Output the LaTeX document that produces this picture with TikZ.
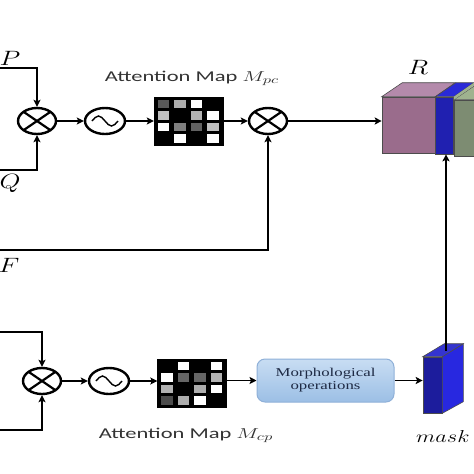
\documentclass[tikz,border=0pt]{standalone}
\usepackage{graphicx}
\usepackage{fontspec}
\newfontfamily\carl{Carlito}
\newfontfamily\lser{Liberation Serif}
\usetikzlibrary{shapes.geometric,arrows.meta}
\definecolor{pinkF}{HTML}{9A6C8C}
\definecolor{pinkT}{HTML}{B48AAB}
\definecolor{blueF}{HTML}{2020B0}
\definecolor{blueT}{HTML}{2A2AD8}
\definecolor{greenF}{HTML}{7D8C72}
\definecolor{greenT}{HTML}{9FB28F}
\definecolor{maskF}{HTML}{1C1C9C}
\definecolor{maskS}{HTML}{2828E0}
\definecolor{maskT}{HTML}{3434D0}
\definecolor{morphTop}{HTML}{C8DDF3}
\definecolor{morphBot}{HTML}{9CBFE5}
\definecolor{morphLine}{HTML}{8FB0D8}
\definecolor{morphText}{HTML}{1E2A44}
\newcommand{\wide}[2]{\scalebox{#1}[1]{#2}}
\begin{document}
\begin{tikzpicture}[x=1pt,y=-1pt,
  conn/.style={line width=1.8pt,-{Stealth[length=7pt,width=7pt,inset=1.5pt]}},
  mult/.style={ellipse,draw,line width=2.4pt,minimum width=38pt,minimum height=26pt,inner sep=0pt,
    path picture={\draw[line width=2.2pt] (path picture bounding box.north west)--(path picture bounding box.south east)
      (path picture bounding box.north east)--(path picture bounding box.south west);}},
  sigm/.style={ellipse,draw,line width=2.4pt,minimum width=40pt,minimum height=26pt,inner sep=0pt,
    path picture={\draw[line width=1.4pt] ([xshift=-13pt]path picture bounding box.center)
      sin ++(6.5,-5) cos ++(6.5,5) sin ++(6.5,5) cos ++(6.5,-5);}},
  amap/.style={draw=black,fill=black,minimum width=69pt,minimum height=48pt,inner sep=0pt},
  lbl/.style={font=\fontsize{20}{22}\selectfont,inner sep=0pt},
  attn/.style={font=\carl\fontsize{15}{17}\selectfont,inner sep=0pt,text=black!80},
  morph/.style={rounded corners=8pt,draw=morphLine,line width=1pt,top color=morphTop,bottom color=morphBot,
    minimum width=137pt,minimum height=43pt,align=center,text=morphText,
    font=\lser\fontsize{12}{14}\selectfont,inner sep=0pt},
  face/.style={draw=black!70,line width=0.6pt}
]
\useasboundingbox (0,0) rectangle (474,474);
\clip (0,0) rectangle (474,474);

% ---------- top row ----------
\node[mult] (m1) at (37,121) {};
\node[sigm] (s1) at (105,121) {};
\node[amap] (map1) at (188.5,121) {};
\node[mult] (m2) at (268,121) {};

% attention map cells (top): lightness in percent
\foreach \c/\r/\g in {0/0/35,1/0/68,2/0/100,
                      0/1/75,2/1/70,3/1/100,
                      0/2/100,1/2/50,2/2/38,3/2/75,
                      1/3/100,3/3/100}{
  \fill[white!\g!black] ([xshift={4+16.5*\c},yshift={-(3+11.5*\r)}]map1.north west) rectangle ++(11.5,8.5);
}

% R cube
\node[face,fill=pinkF,minimum width=53pt,minimum height=56pt,inner sep=0pt] (rfront) at (408.5,125) {};
\fill[pinkT,face] (rfront.north west) -- (rfront.north east) -- ++(20,-14) -- ++(-53,0) -- cycle;
\node[face,fill=blueF,minimum width=18pt,minimum height=57pt,inner sep=0pt,anchor=north west] (slab) at (rfront.north east) {};
\fill[blueT,face] (slab.north west) -- (slab.north east) -- ++(20,-14) -- ++(-18,0) -- cycle;
\node[face,fill=greenF,minimum width=40pt,minimum height=56pt,inner sep=0pt,anchor=north west] (gbox) at ([yshift=-3pt]slab.north east) {};
\fill[greenT,face] (gbox.north west) -- (gbox.north east) -- ++(20,-14) -- ++(-40,0) -- cycle;
\fill[greenT] (slab.north east) -- ++(20,-14) -- ++(0,3) -- (gbox.north west) -- cycle;

\node[lbl] (lR) at (418,67) {\wide{1.3}{$R$}};
\node[lbl] (lP) at (10,58) {\wide{1.3}{$P$}};
\node[lbl] (lQ) at (10,183) {\wide{1.3}{$Q$}};
\node[lbl] (lF) at (9,265) {\wide{1.3}{$F$}};
\node[attn] (t1) at (192,78) {\wide{1.5}{Attention Map $M_{pc}$}};

\coordinate (pin) at (-5,68);
\coordinate (qin) at (-5,170);
\coordinate (fin) at (-5,250);
\draw[conn] (pin) -| (m1.north);
\draw[conn] (qin) -| (m1.south);
\draw[conn] (m1) -- (s1);
\draw[conn] (s1) -- (map1);
\draw[conn] (map1) -- (m2);
\draw[conn] (m2) -- (m2 -| rfront.west);
\draw[conn] (fin) -| (m2.south);

% ---------- bottom row ----------
\node[mult] (m3) at (42,381) {};
\node[sigm] (s3) at (109,381) {};
\node[amap] (map2) at (192,383) {};
\foreach \c/\r/\g in {1/0/100,3/0/100,
                      0/1/100,1/1/40,2/1/40,3/1/70,
                      0/2/70,2/2/68,3/2/100,
                      0/3/30,1/3/68,2/3/100}{
  \fill[white!\g!black] ([xshift={4+16.5*\c},yshift={-(3+11.5*\r)}]map2.north west) rectangle ++(11.5,8.5);
}
\node[morph] (mo) at (325.5,380.5) {\wide{1.4}{Morphological}\\[-1pt]\wide{1.4}{operations}};

% mask cube
\node[face,fill=maskF,minimum width=19pt,minimum height=56pt,inner sep=0pt] (mk) at (432.5,385) {};
\fill[maskS,face] (mk.north east) -- ++(21,-13) -- ++(0,58) -- (mk.south east) -- cycle;
\fill[maskT,face] (mk.north west) -- (mk.north east) -- ++(21,-13) -- ++(-19,0) -- cycle;
\coordinate (mtop) at (446,351);

\node[attn] (t2) at (186,435) {\wide{1.5}{Attention Map $M_{cp}$}};
\node[lbl,anchor=west,font=\fontsize{17}{19}\selectfont] (lmask) at (416,436) {\wide{1.3}{$mask$}};

\coordinate (ain) at (-5,332);
\coordinate (bin) at (-5,430);
\draw[conn] (ain) -| (m3.north);
\draw[conn] (bin) -| (m3.south);
\draw[conn] (m3) -- (s3);
\draw[conn] (s3) -- (s3 -| map2.west);
\draw[conn] (map2.east |- mo) -- (mo);
\draw[conn] (mo) -- (mo -| mk.west);
\draw[conn] (mtop) -- (mtop |- slab.south);
\end{tikzpicture}
\end{document}
